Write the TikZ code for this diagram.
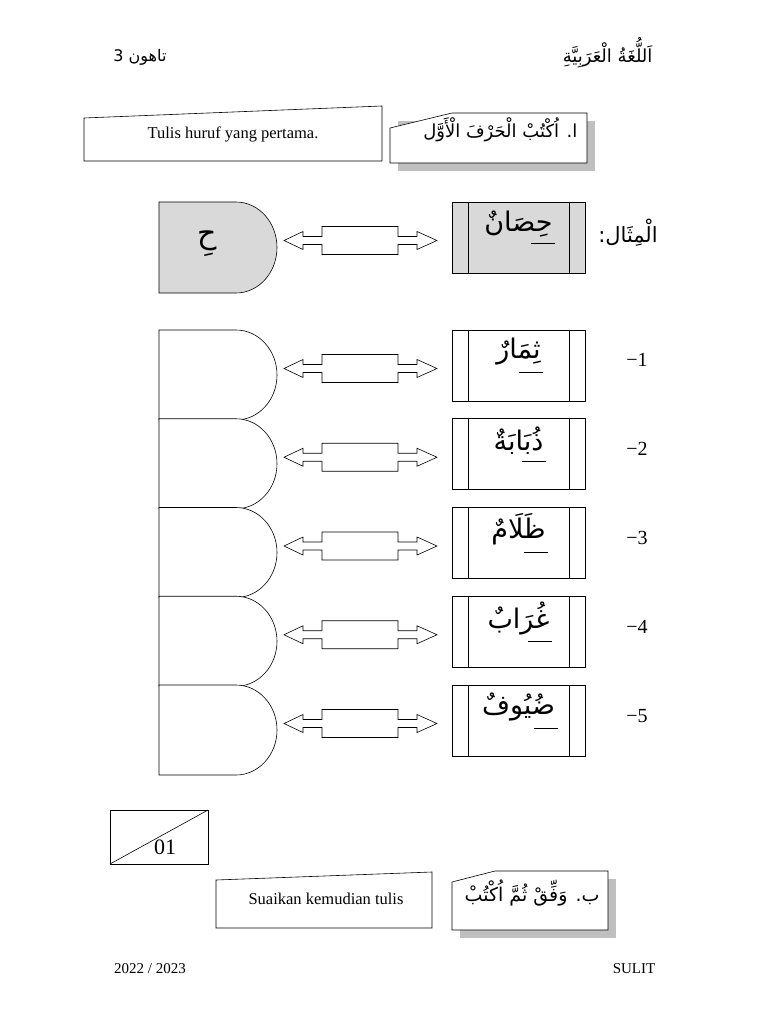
\documentclass[tikz,border=0pt]{standalone}
\usepackage{fontspec}
\setmainfont{Liberation Serif}
\newfontfamily\arabicfont[Script=Arabic]{DejaVu Sans}
\TeXXeTstate=1
\definecolor{shade}{HTML}{D9D9D9}
\definecolor{shadow}{HTML}{BFBFBF}
\begin{document}
\begin{tikzpicture}[x=1pt,y=-1pt,
  ln/.style={draw=black,line width=0.6pt},
  ar/.style={font=\arabicfont\fontsize{27}{30}\selectfont},
  lat/.style={font=\fontsize{16.5}{19}\selectfont}]
\useasboundingbox (0,0) rectangle (768,1024);
% header
\node[font=\arabicfont\fontsize{16}{19}\selectfont] (hl) at (140,57) {\beginR تاهون 3\endR};
\node[font=\arabicfont\fontsize{18}{21}\selectfont,anchor=east] (hr) at (656,53) {\beginR اَللُّغَةُ الْعَرَبِيَّةِ\endR};
% title boxes
\draw[ln] (84,118) -- (382,106) -- (382,161) -- (84,161) -- cycle;
\node[lat] (t1) at (233,134) {Tulis huruf yang pertama.};
\fill[shadow] (398,121) rectangle (595,171);
\draw[ln,fill=white] (390,128) -- (452,113) -- (587,113) -- (587,163) -- (390,163) -- cycle;
\node[font=\arabicfont\fontsize{18}{21}\selectfont,anchor=east] (t2) at (581,130) {\beginR ا. اُكْتُبْ الْحَرْفَ الْأَوَّل\endR};
% rows
\newcommand{\drow}[5]{% top of shape, shape height, box height, fill, word
  \pgfmathsetmacro{\yt}{#1}\pgfmathsetmacro{\yb}{#1+#2}\pgfmathsetmacro{\ym}{#1+#2/2}
  \pgfmathsetmacro{\bb}{#1+#3}\pgfmathsetmacro{\ry}{#2/2}
  \pgfmathsetmacro{\ac}{#1+#3/2+3}
  \draw[ln,fill=#4] (159,\yt) -- (236,\yt) arc[start angle=-90,end angle=90,x radius=41,y radius=\ry] -- (159,\yb) -- cycle;
  \draw[ln,fill=white] (284,\ac) -- (303,\ac-9) -- (303,\ac-4) -- (322,\ac-4) -- (322,\ac-14) -- (398,\ac-14) -- (398,\ac-4) -- (417,\ac-4) -- (417,\ac-9) -- (437,\ac) -- (417,\ac+9) -- (417,\ac+4) -- (398,\ac+4) -- (398,\ac+14) -- (322,\ac+14) -- (322,\ac+4) -- (303,\ac+4) -- (303,\ac+9) -- cycle;
  \draw[ln,fill=#4] (452,\yt) rectangle (585,\bb);
  \draw[ln] (468,\yt) -- (468,\bb) (569,\yt) -- (569,\bb);
  \node[ar] (w) at (518.5,\yt+22) {\beginR #5\endR};
  \draw[line width=0.5pt] ([xshift=-1pt,yshift=-3pt]w.south east) -- ++(-24,0);
}
\drow{202}{91}{71}{shade}{حِصَانٌ}
\node[font=\arabicfont\fontsize{30}{34}\selectfont] (hh) at (207,244) {\beginR حِ\endR};
\node[font=\arabicfont\fontsize{21}{24}\selectfont] (mi) at (628,233) {\beginR الْمِثَال:\endR};
\drow{330}{90}{71}{white}{ثِمَارٌ}
\drow{418.75}{90}{71}{white}{ذُبَابَةٌ}
\drow{507.5}{90}{71}{white}{ظَلَامٌ}
\drow{596.25}{90}{71}{white}{غُرَابٌ}
\drow{685}{90}{71}{white}{ضُيُوفٌ}
\foreach \i/\yy in {1/360,2/449,3/538,4/627,5/716}
  \node[font=\fontsize{20}{23}\selectfont] (n\i) at (637,\yy) {−\i};
% score box
\draw[ln] (110,810) rectangle (208,864);
\draw[ln] (110,864) -- (208,810);
\node[font=\fontsize{22}{25}\selectfont] (sc) at (165,847) {01};
% section B
\draw[ln] (216,880) -- (432,872) -- (432,928) -- (216,928) -- cycle;
\node[lat] (sb) at (326,899) {Suaikan kemudian tulis};
\fill[shadow] (460,879) rectangle (616,938);
\draw[ln,fill=white] (452,882) -- (495,871) -- (608,871) -- (608,930) -- (452,930) -- cycle;
\node[font=\arabicfont\fontsize{19}{22}\selectfont,anchor=east] (tb) at (603,893) {\beginR ب. وَفِّقْ ثُمَّ اُكْتُبْ\endR};
% footer
\node[font=\fontsize{15}{17}\selectfont] (f1) at (150,969) {2022 / 2023};
\node[font=\fontsize{15}{17}\selectfont] (f2) at (634,969) {SULIT};
\end{tikzpicture}
\end{document}
